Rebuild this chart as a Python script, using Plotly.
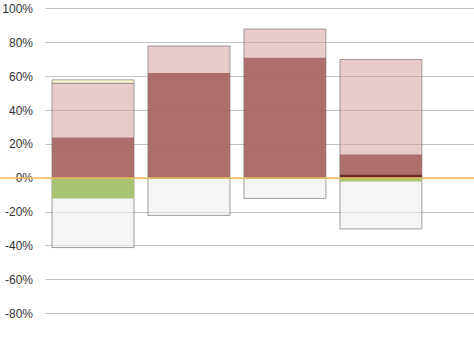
import plotly.graph_objects as go

categories = ["A", "B", "C", "D"]
# overlay series (each measured from zero)
s_yellow = [58, None, None, None]
s_pink = [56, 78, 88, 70]
s_darkred = [24, 62, 71, 14]
s_brown = [None, None, None, 2]
s_gray_neg = [-41, -22, -12, -30]
s_green_neg = [-12, None, None, -2]
tick_vals = [-80, -60, -40, -20, 0, 20, 40, 60, 80, 100]
tick_text = [f"{v}%" for v in tick_vals]

# yellow band sits on top of the pink bar
y_band = [(a - b) if a is not None else None for a, b in zip(s_yellow, s_pink)]

line = dict(color="rgba(120,120,120,0.7)", width=1)
fig = go.Figure()
fig.add_bar(x=categories, y=s_pink, marker=dict(color="rgba(215,160,160,0.55)", line=line))
fig.add_bar(x=categories, y=y_band, base=s_pink, marker=dict(color="rgba(252,246,205,1)", line=line))
fig.add_bar(x=categories, y=s_darkred, marker=dict(color="rgba(162,94,94,0.85)", line=dict(width=0)))
fig.add_bar(x=categories, y=s_brown, marker=dict(color="rgba(100,40,40,0.95)", line=dict(width=0)))
fig.add_bar(x=categories, y=s_gray_neg, marker=dict(color="rgba(238,238,238,0.6)", line=line))
fig.add_bar(x=categories, y=s_green_neg, marker=dict(color="rgba(160,190,100,0.9)", line=dict(width=0)))

fig.add_hline(y=0, x0=-0.11, x1=1, line=dict(color="#f0bc5a", width=1.5), layer="above")

fig.update_layout(
    width=474, height=364,
    margin=dict(l=45, r=0, t=7, b=30),
    barmode="overlay", bargap=0.146,
    showlegend=False,
    plot_bgcolor="white", paper_bgcolor="white",
    font=dict(family="Liberation Sans, Arial, sans-serif", size=12, color="#333"),
    xaxis=dict(range=[-0.5, 3.97], showticklabels=False, showgrid=False, zeroline=False,
               showline=False, automargin=False),
    yaxis=dict(range=[-92, 101], tickmode="array", tickvals=tick_vals, ticktext=tick_text,
               showgrid=True, gridcolor="#c4c4c4", gridwidth=1, automargin=False,
               zeroline=False, showline=False, ticklabelstandoff=11),
)
fig.write_html("out.html", config={"displayModeBar": False},
               post_script="document.body.style.margin='0';document.body.style.overflow='hidden';")
